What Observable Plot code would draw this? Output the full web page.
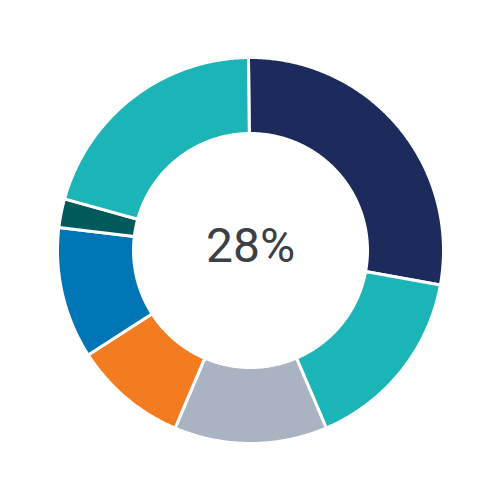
<!DOCTYPE html>
<html>
<head>
<meta charset="utf-8">
<script src="https://cdn.jsdelivr.net/npm/d3@7"></script>
<script src="https://cdn.jsdelivr.net/npm/@observablehq/plot@0.6"></script>
<style>
  html, body { margin: 0; padding: 0; background: #fff; }
  #chart { width: 500px; height: 500px; }
</style>
</head>
<body>
<div id="chart"></div>
<script>
const categories = ["A", "B", "C", "D", "E", "F", "G"];
const values = [28.0, 15.7, 12.8, 9.5, 11.0, 2.4, 20.5];
const colors = ["#1c2b5b", "#1cb5b7", "#a9b3c2", "#f47c20", "#0075b6", "#035a5a", "#1cb5b7"];
const centerLabel = "28%";
const startAngleDeg = -0.6;

const innerRatio = 117 / 193;
const pie = d3.pie().sort(null).value(d => d)
  .startAngle(startAngleDeg * Math.PI / 180)
  .endAngle((startAngleDeg + 360) * Math.PI / 180);
const arcs = pie(values);

const pts = [];
arcs.forEach((a, i) => {
  const n = Math.max(2, Math.ceil((a.endAngle - a.startAngle) / (Math.PI / 360)));
  for (let k = 0; k <= n; k++) {
    const t = a.startAngle + (a.endAngle - a.startAngle) * k / n;
    pts.push({key: categories[i], color: colors[i], x: Math.sin(t), y: Math.cos(t)});
  }
  for (let k = n; k >= 0; k--) {
    const t = a.startAngle + (a.endAngle - a.startAngle) * k / n;
    pts.push({key: categories[i], color: colors[i], x: innerRatio * Math.sin(t), y: innerRatio * Math.cos(t)});
  }
});

const chart = Plot.plot({
  width: 500,
  height: 500,
  margin: 57,
  x: {domain: [-1, 1], axis: null},
  y: {domain: [-1, 1], axis: null},
  color: {type: "identity"},
  marks: [
    Plot.line(pts, {x: "x", y: "y", z: "key", fill: "color", stroke: "white", strokeWidth: 3, curve: "linear-closed"}),
    Plot.text([centerLabel], {x: () => 0, y: () => 0, text: d => d, fontSize: 48, fill: "#3b3f46", fontFamily: "Roboto", textAnchor: "middle", dy: -4})
  ]
});
chart.style.fontFamily = "Roboto, sans-serif";
document.getElementById("chart").appendChild(chart);
</script>
</body>
</html>
